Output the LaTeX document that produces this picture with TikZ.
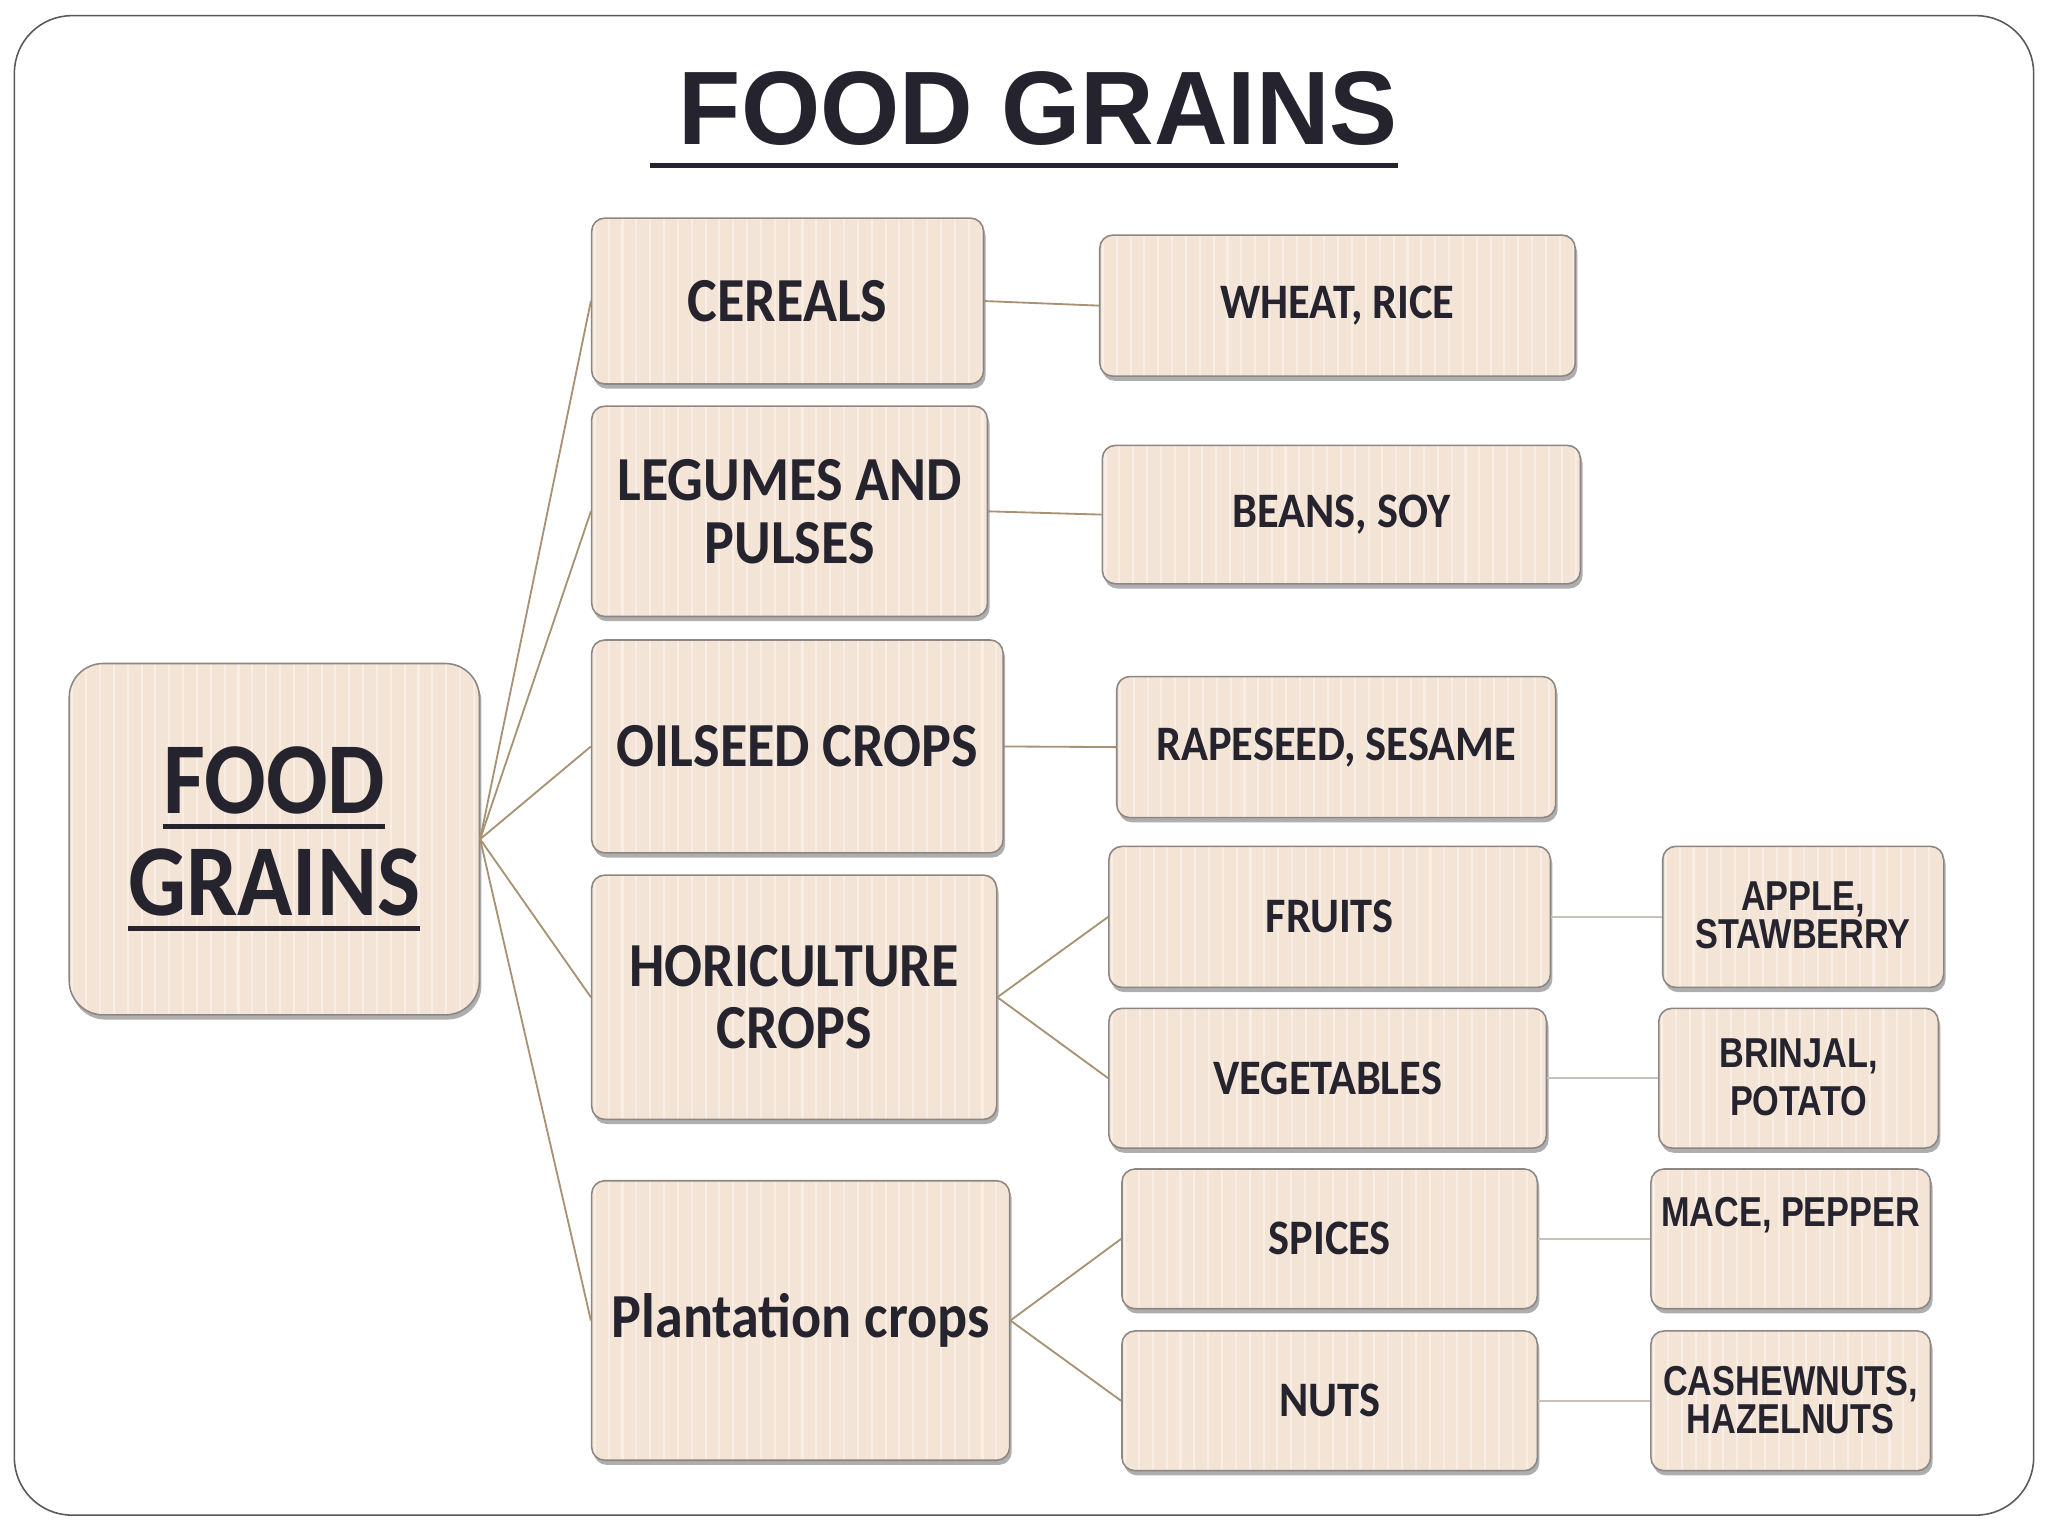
\documentclass[tikz,border=0pt]{standalone}
\usepackage{fontspec}
\setmainfont{Carlito}
\newfontfamily\calb[FakeStretch=0.895]{Carlito}
\newfontfamily\arln[FakeStretch=0.82]{Liberation Sans}
\newfontfamily\arlt[FakeStretch=0.975]{Liberation Sans}
\usetikzlibrary{shadows}
\definecolor{boxfill}{HTML}{F3E4D6}
\definecolor{stripe}{HTML}{F8EEE6}
\definecolor{boxline}{HTML}{8C8782}
\definecolor{ink}{HTML}{24232E}
\definecolor{conn}{HTML}{A89274}
\definecolor{connlight}{HTML}{C9C2B8}
\newcommand\myul[2]{\setbox0\hbox{#1}\rlap{\rule[#2]{\wd0}{2.2pt}}\box0}
\tikzset{
  card/.style={draw=boxline, line width=0.6pt, fill=boxfill, rounded corners=5pt,
    drop shadow={shadow xshift=0.8pt, shadow yshift=-1.8pt, opacity=0.45, fill=black!70},
    path picture={
      \foreach \k in {0,...,90}{
        \draw[stripe, line width=0.8pt]
          ([xshift=\k*5.3pt+1.2pt]path picture bounding box.south west) --
          ([xshift=\k*5.3pt+1.2pt]path picture bounding box.north west);
      }
    },
    text=ink, align=center, inner sep=0pt},
  midtxt/.style={font=\calb\bfseries\fontsize{24}{24}\selectfont},
  smltxt/.style={font=\calb\bfseries\fontsize{19}{23}\selectfont},
  arltxt/.style={font=\arln\bfseries\fontsize{16}{17}\selectfont, text=ink, align=center},
  link/.style={draw=conn, line width=0.7pt},
  linklt/.style={draw=connlight, line width=0.8pt},
}
\begin{document}
\begin{tikzpicture}[x=0.5pt, y=-0.5pt]
\useasboundingbox (0,0) rectangle (1568,1176);
\fill[white] (0,0) rectangle (1568,1176);
% outer frame
\draw[black!65, line width=0.6pt, rounded corners=22pt] (11,12) rectangle (1557,1160);

% title
\node[text=ink, font=\arlt\bfseries\fontsize{40}{44}\selectfont, inner sep=0pt, anchor=base]
  (title) at (784,111) {\myul{\ FOOD GRAINS}{-9pt}};

% root
\node[card, rounded corners=13pt, minimum width=157pt, minimum height=134.5pt,
  font=\calb\bfseries\fontsize{39}{38}\selectfont] (root) at (210,642.5)
  {\raisebox{-4pt}{\myul{FOOD}{-6pt}}\\[2pt]\raisebox{-3pt}{\myul{GRAINS}{-6pt}}};

% middle column
\node[card, midtxt, minimum width=150pt, minimum height=63.5pt] (cereals) at (603,230.5) {CEREALS};
\node[card, midtxt, minimum width=151.5pt, minimum height=80.5pt] (legumes) at (604.5,391.5) {LEGUMES AND\\PULSES};
\node[card, midtxt, minimum width=157.5pt, minimum height=81.5pt] (oilseed) at (610.5,571.5) {OILSEED CROPS};
\node[card, midtxt, minimum width=155pt, minimum height=93.5pt] (horti) at (608,763.5) {HORICULTURE\\CROPS};
\node[card, midtxt, minimum width=160pt, minimum height=107pt] (plant) at (613,1011) {Plantation crops};

% second column
\node[card, smltxt, minimum width=182pt, minimum height=54pt] (wheat) at (1024,234) {WHEAT, RICE};
\node[card, smltxt, minimum width=183pt, minimum height=53pt] (beans) at (1027,394) {BEANS, SOY};
\node[card, smltxt, minimum width=168pt, minimum height=54pt] (rapeseed) at (1023,572) {RAPESEED, SESAME};
\node[card, smltxt, minimum width=169pt, minimum height=54pt] (fruits) at (1018,702) {FRUITS};
\node[card, smltxt, minimum width=167.5pt, minimum height=53.5pt] (veg) at (1016.5,825.5) {VEGETABLES};
\node[card, smltxt, minimum width=159pt, minimum height=53.5pt] (spices) at (1018,948.5) {SPICES};
\node[card, smltxt, minimum width=159pt, minimum height=53.5pt] (nuts) at (1018,1072.5) {NUTS};

% third column
\node[card, minimum width=107.5pt, minimum height=54pt] (apple) at (1380.5,702) {};
\node[card, minimum width=107pt, minimum height=53.5pt] (brinjal) at (1377,825.5) {};
\node[card, minimum width=107pt, minimum height=53.5pt] (mace) at (1371,948.5) {};
\node[card, minimum width=107pt, minimum height=53.5pt] (cashew) at (1371,1072.5) {};
\node[arltxt, font=\arln\bfseries\fontsize{16}{13.5}\selectfont] (appletxt) at (1380.5,701) {APPLE,\\STAWBERRY};
\node[arltxt, font=\arln\bfseries\fontsize{16}{18.5}\selectfont] (brinjaltxt) at (1377,825) {BRINJAL,\\POTATO};
\node[arltxt] (macetxt) at (1371,930) {MACE, PEPPER};
\node[arltxt, font=\arln\bfseries\fontsize{16}{13.5}\selectfont] (cashewtxt) at (1371,1072) {CASHEWNUTS,\\HAZELNUTS};

% connectors
\foreach \t in {cereals,legumes,oilseed,horti,plant}{
  \draw[link] (root.east) -- (\t.west);
}
\draw[link] (cereals.east) -- (wheat.west);
\draw[link] (legumes.east) -- (beans.west);
\draw[link] (oilseed.east) -- (rapeseed.west);
\draw[link] (horti.east) -- (fruits.west);
\draw[link] (horti.east) -- (veg.west);
\draw[link] (plant.east) -- (spices.west);
\draw[link] (plant.east) -- (nuts.west);
\draw[linklt] (fruits.east) -- (apple.west);
\draw[linklt] (veg.east) -- (brinjal.west);
\draw[linklt] (spices.east) -- (mace.west);
\draw[linklt] (nuts.east) -- (cashew.west);
\end{tikzpicture}
\end{document}
